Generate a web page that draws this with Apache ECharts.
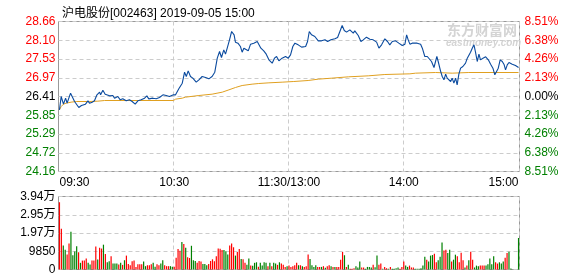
<!DOCTYPE html>
<html><head><meta charset="utf-8">
<script src="https://cdn.jsdelivr.net/npm/echarts@6/dist/echarts.min.js"></script>
<style>html,body{margin:0;padding:0;background:#fff}#c{width:578px;height:276px}</style>
</head><body><div id="c"></div>
<script>
const titleText = '沪电股份[002463] 2019-09-05 15:00';
const timeTickIdx = [0, 60, 120, 180, 240];
const timeLabels = ['09:30', '10:30', '11:30/13:00', '14:00', '15:00'];
const priceTicks = ['24.16','24.72','25.29','25.85','26.41','26.97','27.53','28.10','28.66'];
const pctTicks = ['8.51%','6.38%','4.26%','2.13%','0.00%','2.13%','4.26%','6.38%','8.51%'];
const volTicks = ['0','9850','1.97万','2.95万','3.94万'];
const priceMin = 24.16, priceMax = 28.66;
const volMax = 39400;

const priceT = [0.0,0.9,2.1,3.2,4.0,5.8,7.9,10.1,11.5,13.6,14.9,15.7,17.1,18.3,19.6,21.0,21.5,22.7,23.9,26.2,27.9,28.8,30.5,31.8,33.1,34.9,36.6,38.0,39.6,41.0,42.7,44.5,45.7,46.7,48.8,50.6,52.3,54.1,55.8,57.5,59.6,
60.7,62.4,64.2,65.4,66.3,67.3,68.5,69.7,71.5,72.9,74.6,76.4,78.1,79.8,81.2,82.5,83.7,84.7,85.9,86.8,87.7,88.9,90.0,90.6,91.3,92.0,93.3,94.6,95.5,96.4,97.3,98.7,99.9,101.6,103.4,104.2,105.3,106.8,108.1,109.5,111.2,112.4,113.5,114.7,116.4,118.2,119.6,120.8,122.0,
123.1,124.8,126.6,127.4,128.7,129.7,130.6,131.8,133.5,135.3,136.2,137.0,138.8,140.2,141.9,144.0,145.4,146.6,147.8,148.9,150.1,151.8,153.6,154.4,156.2,157.6,158.8,160.5,162.3,164.0,165.8,167.0,168.4,170.1,171.5,172.7,174.0,175.7,177.4,179.2,180.6,181.5,182.3,183.2,
184.4,187.0,188.8,189.7,191.0,192.3,193.1,194.5,195.8,196.6,197.3,198.0,199.2,200.1,201.0,201.9,202.7,203.6,204.5,205.3,206.2,207.1,207.9,208.8,209.7,210.9,212.3,213.2,214.0,214.9,215.8,216.7,217.5,218.4,219.3,220.1,221.4,222.8,224.2,225.4,226.6,227.6,228.5,229.4,230.4,231.5,232.5,233.2,234.1,235.0,236.7,238.4,240.0];
const priceV = [26.01,26.41,26.18,26.36,26.21,26.51,26.26,26.08,26.14,26.18,26.28,26.21,26.24,26.28,26.46,26.54,26.46,26.60,26.48,26.43,26.44,26.36,26.41,26.31,26.34,26.28,26.31,26.26,26.18,26.28,26.31,26.36,26.43,26.34,26.36,26.34,26.38,26.46,26.44,26.41,26.46,
26.46,26.64,26.81,27.14,27.01,27.18,27.01,26.96,26.84,26.91,27.01,26.98,26.94,27.01,27.14,27.56,27.76,27.58,27.81,27.68,27.86,28.11,28.36,28.41,28.26,28.04,28.01,27.91,27.74,27.86,27.91,27.78,27.98,28.01,28.06,28.08,27.86,27.78,27.68,27.51,27.41,27.56,27.61,27.48,27.56,27.61,27.56,27.66,27.91,
28.01,27.96,27.89,27.83,27.91,28.06,28.36,28.26,28.21,28.08,28.14,28.08,28.11,28.06,28.11,28.14,28.18,28.36,28.54,28.39,28.34,28.41,28.31,28.38,28.24,28.06,28.11,28.19,28.13,28.11,28.04,27.86,27.96,28.14,28.06,27.96,28.06,28.08,28.01,27.94,27.98,28.26,28.11,27.98,
28.01,28.01,27.98,27.86,27.61,27.61,27.58,27.46,27.28,27.46,27.61,27.46,27.18,27.01,26.91,27.08,26.96,27.01,26.86,26.96,26.81,26.96,26.76,27.08,27.26,27.31,27.41,27.56,27.51,27.74,27.86,27.96,27.74,27.46,27.68,27.51,27.56,27.60,27.51,27.38,27.26,27.06,27.01,27.26,27.51,27.46,27.36,27.21,27.36,27.43,27.38,27.34,27.28];

const avgT = [0.0,0.9,2.1,3.5,6.1,8.8,15.7,20.1,23.6,59.6,60.7,64.2,65.9,72.9,79.8,85.1,88.6,92.0,95.5,100.7,104.2,109.5,116.4,122.5,130.0,135.3,142.3,151.0,161.4,170.1,183.2,186.2,196.6,205.3,214.0,240.0];
const avgV = [26.01,26.11,26.18,26.21,26.24,26.26,26.26,26.27,26.29,26.29,26.33,26.36,26.39,26.44,26.48,26.54,26.61,26.68,26.74,26.78,26.80,26.82,26.84,26.86,26.89,26.93,26.96,27.00,27.03,27.07,27.09,27.11,27.13,27.11,27.13,27.13];

const volumes = [36300,22000,12900,10700,8100,14000,20400,7700,9700,12500,
9300,3600,4800,4800,5900,3600,2700,4800,4800,12400,
5400,11800,11300,13400,8400,3900,4500,7200,3200,3200,
3200,2700,3600,2500,5000,7500,3000,2300,4500,4800,
1300,2900,2900,2900,4300,1800,2300,2300,2900,3600,
1500,2900,2300,3200,5000,2300,1800,1800,1800,1500,
1500,6400,11000,10100,14900,13800,11700,6600,6200,12800,
5000,4600,3600,4600,4300,3000,3000,2300,3000,4600,
5500,4500,7100,11400,11200,10500,10500,9800,8100,13000,
14000,12000,7500,9500,11000,5700,5500,3600,2500,6000,
2200,2000,3600,3900,1500,3600,2200,3900,3600,1800,
3600,1800,3600,3200,2500,3900,3200,2500,1300,1800,
2200,1400,1800,2300,3600,2300,2300,1800,1400,1800,
8100,5700,2300,1400,2300,1400,1400,1400,1800,900,
1800,2300,1800,1400,1400,1400,1400,5200,9500,7700,
1400,2500,400,400,700,1800,1100,4300,1100,1100,
400,1400,1400,1100,2500,1200,7500,2500,3200,400,
1400,700,400,1400,400,400,700,1100,400,1400,
4300,2100,1400,2100,1100,1100,400,400,400,700,
2100,6900,5300,4300,7500,7800,8500,3900,5000,6900,
14600,10300,10700,8900,10700,4300,5300,8000,7100,3900,
9100,5000,1100,2100,5000,9600,5300,1100,2100,1800,
2100,2100,2100,2100,2800,6000,2800,7100,3900,3200,
3900,3200,4300,6400,8900,9600,500,0,0,0,
17000];
const volUp = [1,1,0,0,1,1,0,0,0,0,
1,0,1,1,1,0,0,1,1,1,
0,1,1,0,1,0,0,1,0,0,
0,1,0,1,0,1,1,1,1,1,
1,1,1,1,0,0,1,1,1,0,
0,1,1,0,0,1,1,1,0,0,
1,1,1,1,0,1,0,1,1,0,
0,0,1,1,1,0,0,0,1,1,
1,1,1,1,1,1,0,0,0,1,
1,1,0,1,1,0,1,1,0,0,
1,0,0,0,1,0,0,0,0,1,
0,1,0,0,1,0,1,1,1,0,
1,1,1,1,1,0,1,0,1,1,
1,0,0,0,0,1,1,0,1,0,
1,1,0,1,0,1,1,1,1,0,
1,0,1,1,1,0,0,0,1,1,
0,0,0,0,1,0,0,1,1,0,
1,1,0,1,0,0,0,0,1,1,
1,0,0,1,1,1,0,0,0,0,
0,0,1,0,0,0,1,1,0,0,
0,1,1,0,0,1,0,0,1,1,
1,1,0,1,0,1,1,0,0,0,
1,1,1,0,0,0,0,0,1,1,
0,0,0,1,1,0,0,0,0,0,
0];

const cats = volumes.map((v, i) => String(i));
const RED = '#ff0000', GREEN = '#008000', BLACK = '#000000';
const FONT = "'Liberation Sans', 'Noto Sans CJK SC', sans-serif";
const pStep = (priceMax - priceMin) / 8;
const tIdx = v => Math.round((v - priceMin) / pStep);
const lvlColor = v => { const k = tIdx(v); return k > 4 ? RED : (k === 4 ? BLACK : GREEN); };
const isTimeTick = i => timeTickIdx.indexOf(i) >= 0;
const dash = { color: '#cccccc', type: [4, 3], width: 1 };

const chart = echarts.init(document.getElementById('c'), null, { renderer: 'canvas' });
chart.setOption({
  animation: false,
  textStyle: { fontFamily: FONT },
  title: { text: titleText, left: 57, top: 3, textStyle: { fontSize: 12, fontWeight: 'normal', color: '#000', fontFamily: FONT } },
  graphic: [
    { type: 'text', left: 447, top: 23, z: 0, style: { text: '东方财富网', font: "bold 14px 'Noto Sans CJK SC'", fill: '#d4d4d4' } },
    { type: 'text', left: 446, top: 38, z: 0, style: { text: 'eastmoney.com', font: "italic bold 10px 'Liberation Sans'", fill: '#d4d4d4' } }
  ],
  grid: [
    { left: 58.5, top: 21.5, width: 461, height: 150, show: true, borderColor: '#999', borderWidth: 1, backgroundColor: 'transparent' },
    { left: 58.5, top: 196.5, width: 461, height: 73, show: true, borderColor: '#999', borderWidth: 1, backgroundColor: 'transparent' }
  ],
  xAxis: [
    { type: 'category', gridIndex: 0, data: cats, boundaryGap: true,
      axisLine: { show: false }, axisTick: { show: false },
      axisLabel: { interval: (i) => isTimeTick(i), formatter: (v, i) => timeLabels[timeTickIdx.indexOf(+v)] || '',
        fontSize: 12, color: '#000', margin: 5, alignMinLabel: 'left', alignMaxLabel: 'right' },
      splitLine: { show: true, interval: (i) => i === 60 || i === 120 || i === 180, lineStyle: dash } },
    { type: 'value', gridIndex: 0, min: -0.5, max: 240.5, show: false },
    { type: 'category', gridIndex: 1, data: cats, boundaryGap: true,
      axisLine: { show: false }, axisTick: { show: false }, axisLabel: { show: false },
      splitLine: { show: true, interval: (i) => i === 60 || i === 120 || i === 180, lineStyle: dash } }
  ],
  yAxis: [
    { type: 'value', gridIndex: 0, position: 'left', min: priceMin, max: priceMax, interval: pStep,
      axisLine: { show: false }, axisTick: { show: false },
      axisLabel: { fontSize: 12, margin: 3, formatter: (v) => priceTicks[tIdx(v)], color: (v) => lvlColor(+v) },
      splitLine: { show: true, lineStyle: dash } },
    { type: 'value', gridIndex: 0, position: 'right', min: priceMin, max: priceMax, interval: pStep,
      axisLine: { show: false }, axisTick: { show: false },
      axisLabel: { fontSize: 12, margin: 5, formatter: (v) => pctTicks[tIdx(v)], color: (v) => lvlColor(+v) },
      splitLine: { show: false } },
    { type: 'value', gridIndex: 1, min: 0, max: volMax, interval: volMax / 4,
      axisLine: { show: false }, axisTick: { show: false },
      axisLabel: { fontSize: 12, margin: 3, color: '#000', formatter: (v) => volTicks[Math.round(v / (volMax / 4))] },
      splitLine: { show: true, lineStyle: dash } }
  ],
  series: [
    { name: 'avg', type: 'line', xAxisIndex: 1, yAxisIndex: 0, symbol: 'none',
      lineStyle: { color: '#e0a020', width: 1 }, data: avgT.map((t, i) => [t, avgV[i]]), z: 3 },
    { name: 'price', type: 'line', xAxisIndex: 1, yAxisIndex: 0, symbol: 'none',
      lineStyle: { color: '#0a4a9e', width: 1.1 }, data: priceT.map((t, i) => [t, priceV[i]]), z: 4 },
    { name: 'vol', type: 'bar', xAxisIndex: 2, yAxisIndex: 2, barWidth: 1.2,
      data: volumes.map((v, i) => ({ value: v, itemStyle: { color: volUp[i] ? RED : GREEN } })) }
  ]
});
</script></body></html>
